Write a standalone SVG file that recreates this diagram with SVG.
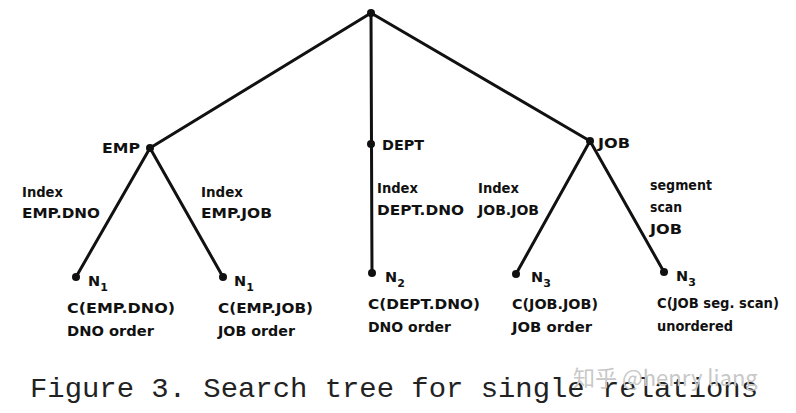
<svg xmlns="http://www.w3.org/2000/svg" width="796" height="413" viewBox="0 0 796 413">
<style>
.t{font-family:"DejaVu Sans","Liberation Sans",sans-serif;font-weight:bold;font-size:14.5px;fill:#111}
.s{font-size:11px}
.e{stroke:#111;stroke-width:3;fill:none;stroke-linecap:round}
.d{fill:#111}
.cap{font-family:"Liberation Mono","DejaVu Sans Mono",monospace;font-size:28px;fill:#222}
.wm{font-family:"Noto Sans CJK SC","DejaVu Sans",sans-serif;font-size:22px;fill:#c8c8c8}
</style>
<rect width="796" height="413" fill="#fff"/>
<g id="connectors">
<line class="e" x1="371" y1="13" x2="150" y2="148"/>
<line class="e" x1="371" y1="13" x2="372" y2="273"/>
<line class="e" x1="371" y1="13" x2="590" y2="141"/>
<line class="e" x1="150" y1="148" x2="76" y2="277"/>
<line class="e" x1="150" y1="148" x2="223" y2="277"/>
<line class="e" x1="590" y1="141" x2="516" y2="274"/>
<line class="e" x1="590" y1="141" x2="664" y2="272"/>
</g>
<g id="root"><circle class="d" cx="371" cy="13" r="4"/></g>
<g id="emp"><circle class="d" cx="150" cy="148" r="4"/><text class="t" x="102" y="153" textLength="38" lengthAdjust="spacingAndGlyphs">EMP</text></g>
<g id="dept"><circle class="d" cx="371" cy="144" r="4"/><text class="t" x="382" y="150" textLength="42" lengthAdjust="spacingAndGlyphs">DEPT</text></g>
<g id="job"><circle class="d" cx="590" cy="141" r="4"/><text class="t" x="598" y="148" textLength="32" lengthAdjust="spacingAndGlyphs">JOB</text></g>
<g id="edge-labels">
<text class="t" x="22" y="197" textLength="41" lengthAdjust="spacingAndGlyphs">Index</text><text class="t" x="22" y="218" textLength="78" lengthAdjust="spacingAndGlyphs">EMP.DNO</text>
<text class="t" x="201" y="197" textLength="42" lengthAdjust="spacingAndGlyphs">Index</text><text class="t" x="201" y="218" textLength="71" lengthAdjust="spacingAndGlyphs">EMP.JOB</text>
<text class="t" x="377" y="193" textLength="41" lengthAdjust="spacingAndGlyphs">Index</text><text class="t" x="377" y="215" textLength="87" lengthAdjust="spacingAndGlyphs">DEPT.DNO</text>
<text class="t" x="478" y="193" textLength="41" lengthAdjust="spacingAndGlyphs">Index</text><text class="t" x="478" y="215" textLength="61" lengthAdjust="spacingAndGlyphs">JOB.JOB</text>
<text class="t" x="650" y="190" textLength="62" lengthAdjust="spacingAndGlyphs">segment</text><text class="t" x="650" y="212" textLength="32" lengthAdjust="spacingAndGlyphs">scan</text><text class="t" x="650" y="234" textLength="32" lengthAdjust="spacingAndGlyphs">JOB</text>
</g>
<g id="leaf1"><circle class="d" cx="76" cy="277" r="4"/><text class="t" x="88" y="286">N<tspan class="s" dy="5">1</tspan></text>
<text class="t" x="67" y="313" textLength="108" lengthAdjust="spacingAndGlyphs">C(EMP.DNO)</text><text class="t" x="67" y="336" textLength="87" lengthAdjust="spacingAndGlyphs">DNO order</text></g>
<g id="leaf2"><circle class="d" cx="223" cy="277" r="4"/><text class="t" x="234" y="286">N<tspan class="s" dy="5">1</tspan></text>
<text class="t" x="218" y="313" textLength="95" lengthAdjust="spacingAndGlyphs">C(EMP.JOB)</text><text class="t" x="218" y="336" textLength="77" lengthAdjust="spacingAndGlyphs">JOB order</text></g>
<g id="leaf3"><circle class="d" cx="372" cy="273" r="4"/><text class="t" x="385" y="282">N<tspan class="s" dy="5">2</tspan></text>
<text class="t" x="368" y="309" textLength="112" lengthAdjust="spacingAndGlyphs">C(DEPT.DNO)</text><text class="t" x="368" y="332" textLength="83" lengthAdjust="spacingAndGlyphs">DNO order</text></g>
<g id="leaf4"><circle class="d" cx="516" cy="274" r="4"/><text class="t" x="531" y="282">N<tspan class="s" dy="5">3</tspan></text>
<text class="t" x="512" y="309" textLength="86" lengthAdjust="spacingAndGlyphs">C(JOB.JOB)</text><text class="t" x="512" y="332" textLength="80" lengthAdjust="spacingAndGlyphs">JOB order</text></g>
<g id="leaf5"><circle class="d" cx="664" cy="272" r="4"/><text class="t" x="676" y="281">N<tspan class="s" dy="5">3</tspan></text>
<text class="t" x="657" y="308" textLength="122" lengthAdjust="spacingAndGlyphs">C(JOB seg. scan)</text><text class="t" x="657" y="331" textLength="76" lengthAdjust="spacingAndGlyphs">unordered</text></g>
<text class="cap" x="30" y="397" textLength="728" lengthAdjust="spacingAndGlyphs">Figure 3. Search tree for single relations</text>
<text class="wm" x="573" y="386">知乎 @henry liang</text>
</svg>
